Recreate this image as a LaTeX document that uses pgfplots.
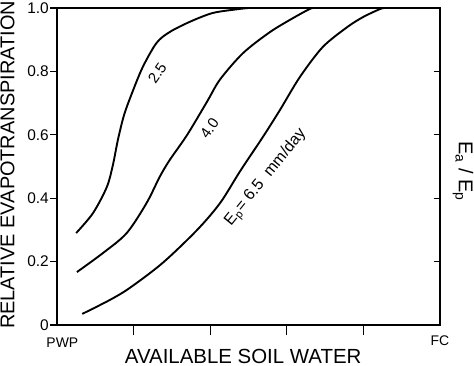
\documentclass[border=0pt]{standalone}
\usepackage{pgfplots}
\pgfplotsset{compat=1.18}
\usepackage{fontspec}
\setmainfont{Liberation Sans}
\begin{document}
\begin{tikzpicture}[x=1bp,y=1bp]
\pgfplotsset{base/.style={at={(0,0)},anchor=south west,scale only axis,
  width=383bp,height=317bp,xmin=0,xmax=5,ymin=0,ymax=1}}
\begin{axis}[base,
  axis line style={line width=2.2pt},
  xtick={1,2,3,4},xticklabels={},ytick=\empty,
  xtick pos=bottom,tick align=outside,
  major tick length=10bp,tick style={line width=1.3pt,black},
  clip=false]
\addplot[line width=1.9pt,smooth,tension=0.5] coordinates {
(0.25,0.29)(0.47,0.353)(0.65,0.435)(0.73,0.505)(0.795,0.584)(0.875,0.662)(0.98,0.732)(1.12,0.814)(1.30,0.890)(1.47,0.924)(1.73,0.956)(2.03,0.984)(2.35,0.996)(2.50,1.0)};
\addplot[line width=1.9pt,smooth,tension=0.5] coordinates {
(0.26,0.167)(0.60,0.227)(0.91,0.290)(1.17,0.385)(1.34,0.467)(1.47,0.520)(1.70,0.600)(1.96,0.705)(2.13,0.775)(2.43,0.858)(2.78,0.924)(3.08,0.968)(3.30,0.997)(3.36,1.0)};
\addplot[line width=1.9pt,smooth,tension=0.5] coordinates {
(0.33,0.035)(0.69,0.079)(0.95,0.117)(1.38,0.196)(1.83,0.300)(2.13,0.385)(2.39,0.485)(2.69,0.594)(2.91,0.678)(3.17,0.782)(3.47,0.877)(3.79,0.940)(4.00,0.972)(4.22,0.997)(4.29,1.0)};
\node[rotate=55,font=\fontsize{15}{15}\selectfont] at (axis cs:1.31,0.795) {2.5};
\node[rotate=55,font=\fontsize{15}{15}\selectfont] at (axis cs:1.99,0.62) {4.0};
\node[rotate=51,font=\fontsize{16}{16}\selectfont] at (axis cs:2.73,0.465) {E\textsubscript{p}= 6.5\hspace{5bp} mm/day};
\node[font=\fontsize{14}{14}\selectfont] at ([yshift=-18bp]axis cs:0.07,0) {PWP};
\node[font=\fontsize{14}{14}\selectfont] at ([yshift=-16bp]axis cs:5,0) {FC};
\node[font=\fontsize{20.5}{20.5}\selectfont] at ([yshift=-31bp]axis cs:2.43,0) {AVAILABLE SOIL WATER};
\node[font=\fontsize{20}{20}\selectfont,rotate=90] at ([xshift=-49.5bp]axis cs:0,0.505) {RELATIVE EVAPOTRANSPIRATION};
\node[font=\fontsize{20}{20}\selectfont,rotate=-90] at ([xshift=23bp]axis cs:5,0.485) {E\textsubscript{a} / E\textsubscript{p}};
\end{axis}
\begin{axis}[base,axis line style={draw=none},xtick=\empty,
  ytick={0,0.2,0.4,0.6,0.8,1.0},yticklabels={0\hspace{7bp},0.2,0.4,0.6,0.8,1.0},
  ytick pos=left,tick align=outside,
  major tick length=7bp,tick style={line width=1.3pt,black},
  yticklabel style={font=\fontsize{15.5}{15.5}\selectfont,inner xsep=1bp}]
\end{axis}
\begin{axis}[base,axis line style={draw=none},xtick=\empty,
  ytick={0.2,0.4,0.6,0.8},yticklabels={},ytick pos=right,tick align=inside,
  major tick length=6bp,tick style={line width=1.3pt,black}]
\end{axis}
\pgfresetboundingbox
\path[use as bounding box] (-57bp,-41bp) rectangle (417bp,325bp);
\end{tikzpicture}
\end{document}
